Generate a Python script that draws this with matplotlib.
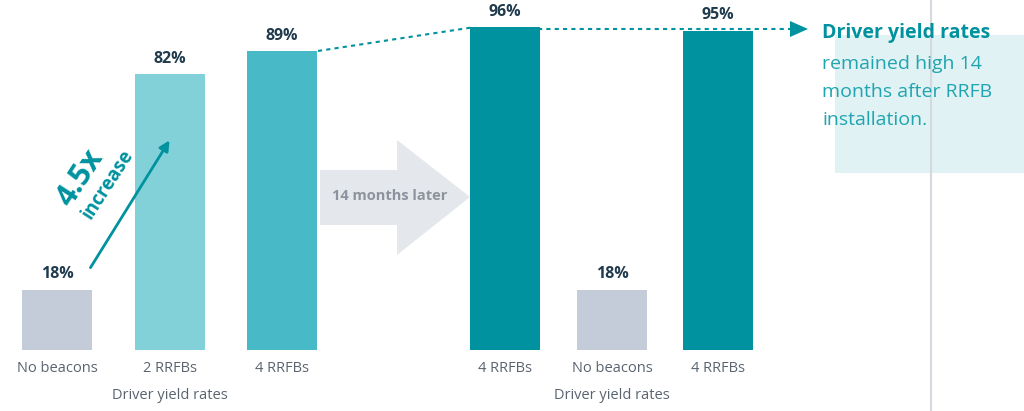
import matplotlib
matplotlib.use("Agg")
import matplotlib.pyplot as plt
from matplotlib.patches import Rectangle, Polygon

plt.rcParams['font.family'] = ['Open Sans', 'DejaVu Sans']

left_cats = ["No beacons", "2 RRFBs", "4 RRFBs"]
left_vals = [18, 82, 89]
right_cats = ["4 RRFBs", "No beacons", "4 RRFBs"]
right_vals = [96, 18, 95]
left_colors = ["#c5ccd9", "#82d1d9", "#48b9c6"]
right_colors = ["#00929f", "#c5ccd9", "#00929f"]

fig = plt.figure(figsize=(10.24, 4.11), dpi=100)
ax = fig.add_axes([0, 0, 1, 1])
ppu = 3.36
ax.set_xlim(0, 1024)
ax.set_ylim(-61 / ppu, 350 / ppu)
ax.axis("off")

def ypx(p):
    return (350 - p) / ppu

lx = [57, 170, 282]
rx = [505, 612, 718]
w = 70
dark = "#1f3a4d"
grey = "#5a6470"
for xs, cats, vals, cols in [(lx, left_cats, left_vals, left_colors), (rx, right_cats, right_vals, right_colors)]:
    ax.bar(xs, vals, width=w, color=cols)
    for x, c, v in zip(xs, cats, vals):
        ax.text(x, v + 2.2, f"{v}%", ha="center", va="bottom", fontsize=11.5, fontweight="bold", color=dark)
        ax.text(x, ypx(368), c, ha="center", va="center", fontsize=10.5, color=grey)
    ax.text(xs[1], ypx(395), "Driver yield rates", ha="center", va="center", fontsize=10.5, color=grey)

ax.add_patch(Polygon([(320, ypx(170)), (397, ypx(170)), (397, ypx(140)), (470, ypx(197)),
                      (397, ypx(255)), (397, ypx(225)), (320, ypx(225))], closed=True, color="#e4e7eb", lw=0))
ax.text(390, ypx(196), "14 months later", ha="center", va="center", fontsize=10.5, fontweight="bold", color="#8b949e")

teal = "#00929f"
ax.plot([318, 472], [left_vals[2], right_vals[0]], ls=(0, (2, 2)), color=teal, lw=1.5)
ax.plot([538, 792], [ypx(29), ypx(29)], ls=(0, (2, 2)), color=teal, lw=1.5)
ax.add_patch(Polygon([(790, ypx(21)), (808, ypx(29)), (790, ypx(37))], closed=True, color=teal, lw=0))

ax.annotate("", xy=(171, ypx(138)), xytext=(89, ypx(270)),
            arrowprops=dict(arrowstyle="-|>", color=teal, lw=2, mutation_scale=15))
ax.text(80, ypx(178), "4.5x", rotation=57, ha="center", va="center", fontsize=22, fontweight="bold", color=teal)
ax.text(108, ypx(184), "increase", rotation=57, ha="center", va="center", fontsize=13.5, fontweight="bold", color=teal)

ax.add_patch(Rectangle((835, ypx(173)), 189, (173 - 35) / ppu, color="#e0f2f4", lw=0, zorder=0))
ax.plot([931, 931], [ypx(0), ypx(411)], color="#d5d8dc", lw=1.5, zorder=0.5)
ax.text(822, ypx(33), "Driver yield rates", ha="left", va="center", fontsize=14, fontweight="bold", color=teal)
for i, line in enumerate(["remained high 14", "months after RRFB", "installation."]):
    ax.text(822, ypx(64 + 28 * i), line, ha="left", va="center", fontsize=14, color="#20a5b0")

fig.savefig("out.png", dpi=100)
